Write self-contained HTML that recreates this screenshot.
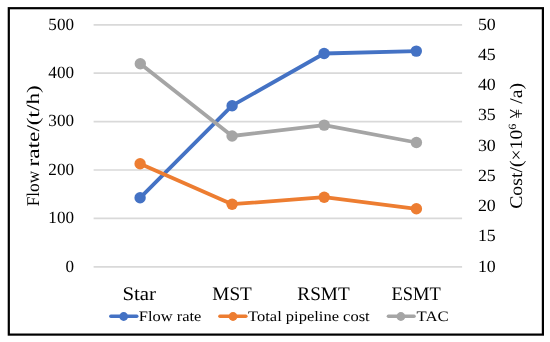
<!DOCTYPE html>
<html><head><meta charset="utf-8">
<style>
html,body{margin:0;padding:0;background:#fff;}
body{width:550px;height:342px;overflow:hidden;}
svg{display:block;}
text{text-rendering:geometricPrecision;font-family:"Liberation Serif",serif;fill:#000;}
</style></head>
<body>
<svg width="550" height="342" viewBox="0 0 550 342">
<rect x="0" y="0" width="550" height="342" fill="#fff"/>
<rect x="8.8" y="8.2" width="534.1" height="326.4" fill="none" stroke="#000" stroke-width="2.2"/>
<g stroke="#D9D9D9" stroke-width="1.7">
<line x1="93.6" y1="24.8" x2="462.1" y2="24.8"/>
<line x1="93.6" y1="73.2" x2="462.1" y2="73.2"/>
<line x1="93.6" y1="121.6" x2="462.1" y2="121.6"/>
<line x1="93.6" y1="170.0" x2="462.1" y2="170.0"/>
<line x1="93.6" y1="218.4" x2="462.1" y2="218.4"/>
<line x1="93.6" y1="266.8" x2="462.1" y2="266.8"/>
</g>
<g font-size="17.1" text-anchor="end">
<text x="74.0" y="29.65">500</text>
<text x="74.0" y="78.05">400</text>
<text x="74.0" y="126.45">300</text>
<text x="74.0" y="174.85">200</text>
<text x="74.0" y="223.25">100</text>
<text x="74.0" y="271.65">0</text>
</g>
<g font-size="17.1" text-anchor="start">
<text x="477.9" y="29.65" textLength="17.9" lengthAdjust="spacingAndGlyphs">50</text>
<text x="477.9" y="59.90" textLength="17.9" lengthAdjust="spacingAndGlyphs">45</text>
<text x="477.9" y="90.15" textLength="17.9" lengthAdjust="spacingAndGlyphs">40</text>
<text x="477.9" y="120.40" textLength="17.9" lengthAdjust="spacingAndGlyphs">35</text>
<text x="477.9" y="150.65" textLength="17.9" lengthAdjust="spacingAndGlyphs">30</text>
<text x="477.9" y="180.90" textLength="17.9" lengthAdjust="spacingAndGlyphs">25</text>
<text x="477.9" y="211.15" textLength="17.9" lengthAdjust="spacingAndGlyphs">20</text>
<text x="477.9" y="241.40" textLength="17.9" lengthAdjust="spacingAndGlyphs">15</text>
<text x="477.9" y="271.65" textLength="17.9" lengthAdjust="spacingAndGlyphs">10</text>
</g>
<g font-size="19.2" text-anchor="middle">
<text x="139.25" y="299.6" textLength="33.6" lengthAdjust="spacingAndGlyphs">Star</text>
<text x="232.1" y="299.6">MST</text>
<text x="323.5" y="299.6">RSMT</text>
<text x="416.2" y="299.6" textLength="49.2" lengthAdjust="spacingAndGlyphs">ESMT</text>
</g>
<g font-size="17.9" transform="translate(39.4,0) rotate(-90)">
<text x="-206.3" textLength="35.4" lengthAdjust="spacingAndGlyphs">Flow</text>
<text x="-166.4" textLength="81.2" lengthAdjust="spacingAndGlyphs">rate/(t/h)</text>
</g>
<text font-size="17.9" text-anchor="middle" textLength="126" lengthAdjust="spacingAndGlyphs" transform="translate(521.6,145.8) rotate(-90)">Cost/(×10<tspan font-size="11" dy="-5.8">6</tspan><tspan dy="5.8"> </tspan><tspan font-family="'Noto Sans CJK SC', sans-serif" font-weight="300" font-size="17">¥</tspan><tspan> /a)</tspan></text>
<polyline fill="none" stroke-width="3.8" stroke-linejoin="round" stroke="#4472C4" points="140.1,197.8 232.1,105.7 324.1,53.5 416.3,51.1"/>
<g fill="#4472C4">
<circle cx="140.1" cy="197.8" r="5.7"/><circle cx="232.1" cy="105.7" r="5.7"/><circle cx="324.1" cy="53.5" r="5.7"/><circle cx="416.3" cy="51.1" r="5.7"/>
</g>
<polyline fill="none" stroke-width="3.8" stroke-linejoin="round" stroke="#ED7D31" points="140.1,163.8 232.1,204.2 324.2,197.2 416.4,208.8"/>
<g fill="#ED7D31">
<circle cx="140.1" cy="163.8" r="5.7"/><circle cx="232.1" cy="204.2" r="5.7"/><circle cx="324.2" cy="197.2" r="5.7"/><circle cx="416.4" cy="208.8" r="5.7"/>
</g>
<polyline fill="none" stroke-width="3.8" stroke-linejoin="round" stroke="#A5A5A5" points="140.3,63.8 232.1,136.0 324.2,125.1 416.4,142.5"/>
<g fill="#A5A5A5">
<circle cx="140.3" cy="63.8" r="5.7"/><circle cx="232.1" cy="136.0" r="5.7"/><circle cx="324.2" cy="125.1" r="5.7"/><circle cx="416.4" cy="142.5" r="5.7"/>
</g>
<line x1="110.8" y1="316.3" x2="136.8" y2="316.3" stroke="#4472C4" stroke-width="3.4" stroke-linecap="round"/>
<circle cx="123.7" cy="316.5" r="4.4" fill="#4472C4"/>
<text x="138.8" y="320.7" font-size="14.5" textLength="62.6" lengthAdjust="spacingAndGlyphs">Flow rate</text>
<line x1="219.9" y1="316.3" x2="245.9" y2="316.3" stroke="#ED7D31" stroke-width="3.4" stroke-linecap="round"/>
<circle cx="233" cy="316.5" r="4.4" fill="#ED7D31"/>
<text x="248.1" y="320.7" font-size="14.5" textLength="121.6" lengthAdjust="spacingAndGlyphs">Total pipeline cost</text>
<line x1="388.4" y1="316.3" x2="414.1" y2="316.3" stroke="#A5A5A5" stroke-width="3.4" stroke-linecap="round"/>
<circle cx="400.9" cy="316.5" r="4.4" fill="#A5A5A5"/>
<text x="416.6" y="320.7" font-size="14.5" textLength="32.1" lengthAdjust="spacingAndGlyphs">TAC</text>
</svg>
</body></html>
